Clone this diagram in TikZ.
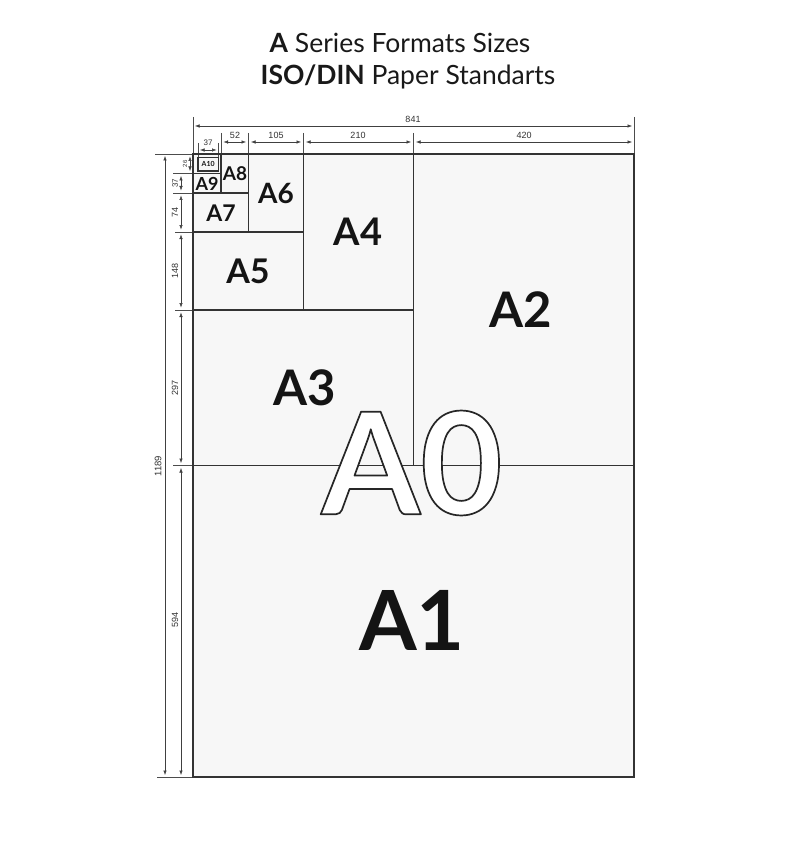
\documentclass[tikz,border=0pt]{standalone}
\usepackage{fontspec}
\setmainfont{Lato}
\newfontfamily\dimfont{Liberation Sans}
\usetikzlibrary{arrows.meta}
\begin{document}
\begin{tikzpicture}[x=1pt,y=-1pt,
  frame/.style={draw=black!80, line width=1.3pt},
  ext/.style={draw=black!70, line width=0.7pt},
  dim/.style={draw=black!75, line width=0.5pt, {Latex[length=4.5pt,width=3.4pt]}-{Latex[length=4.5pt,width=3.4pt]}},
  dimlbl/.style={font=\dimfont\fontsize{#1}{#1}\selectfont, text=black!80, inner sep=0pt},
  dimlbl/.default=9,
  lbl/.style={font=\bfseries\fontsize{#1}{#1}\selectfont, text=black!92, inner sep=0pt},
  ttl/.style={font=\fontsize{26.5}{27}\selectfont, text=black!90, inner sep=0pt, anchor=base}
]
\path[use as bounding box, fill=white] (0,0) rectangle (800,842);

% title
\node[ttl] (t1) at (400,53) {\textbf{A} Series Formats Sizes};
\node[ttl] (t2) at (408,85) {\textbf{ISO/DIN} Paper Standarts};

% paper sheet
\fill[black!3] (193,154) rectangle (634,777);

% extension lines
\draw[ext] (155,154) -- (193,154);
\draw[ext] (157,777) -- (193,777);
\draw[ext] (173,173.5) -- (193,173.5);
\draw[ext] (173,193) -- (193,193);
\draw[ext] (175,232) -- (193,232);
\draw[ext] (175,310) -- (193,310);
\draw[ext] (173,465.5) -- (193,465.5);
\draw[ext] (193,117) -- (193,154);
\draw[ext] (634,117) -- (634,154);
\draw[ext] (221,133) -- (221,154);
\draw[ext] (248.5,133) -- (248.5,154);
\draw[ext] (303.5,133) -- (303.5,154);
\draw[ext] (413.5,133) -- (413.5,154);
\draw[ext] (198,143) -- (198,157.5);
\draw[ext] (218.5,143) -- (218.5,157.5);

% subdivisions
\draw[frame] (193,465.5) -- (634,465.5);
\draw[frame] (413.5,154) -- (413.5,465.5);
\draw[frame] (193,310) -- (413.5,310);
\draw[frame] (303.5,154) -- (303.5,310);
\draw[frame] (193,232) -- (303.5,232);
\draw[frame] (248.5,154) -- (248.5,232);
\draw[frame] (193,193) -- (248.5,193);
\draw[frame] (221,154) -- (221,193);
\draw[frame] (193,173.5) -- (221,173.5);
\draw[frame, line width=1.1pt] (198,157.5) rectangle (218.5,171);
\draw[frame, line width=1.6pt] (193,154) rectangle (634,777);

% horizontal dimensions
\draw[dim] (195,126) -- (632,126);
\node[dimlbl] (d841) at (413,119) {841};
\draw[dim] (416,142) -- (632,142);
\node[dimlbl] (d420) at (524,135) {420};
\draw[dim] (306,142) -- (411,142);
\node[dimlbl] (d210) at (358,135) {210};
\draw[dim] (251,142) -- (301,142);
\node[dimlbl] (d105) at (276,135) {105};
\draw[dim] (223.5,142) -- (246,142);
\node[dimlbl] (d52) at (235,135) {52};
\draw[dim] (200,150) -- (216.5,150);
\node[dimlbl=8] (d37h) at (208,143) {37};

% vertical dimensions
\draw[dim] (165,156) -- (165,775);
\node[dimlbl=9.5, rotate=90] (d1189) at (158,466) {1189};
\draw[dim] (181,468) -- (181,775);
\node[dimlbl, rotate=90] (d594) at (175,620) {594};
\draw[dim] (181,312.5) -- (181,463);
\node[dimlbl, rotate=90] (d297) at (175,388) {297};
\draw[dim] (181,234.5) -- (181,307.5);
\node[dimlbl, rotate=90] (d148) at (175,271) {148};
\draw[dim] (181,195.5) -- (181,229.5);
\node[dimlbl, rotate=90] (d74) at (175,212) {74};
\draw[dim] (181,176) -- (181,190.5);
\node[dimlbl=8, rotate=90] (d37v) at (175,183) {37};
\draw[dim] (190,156.5) -- (190,171);
\node[dimlbl=6, rotate=90] (d26) at (185,164) {26};

% format labels
\node[lbl=83] (A1) at (412,620) {A1};
\node[lbl=49] (A2) at (521,309.5) {A2};
\node[lbl=49] (A3) at (305,387.5) {A3};
\node[lbl=38] (A4) at (358,232) {A4};
\node[lbl=34] (A5) at (248,271) {A5};
\node[lbl=28] (A6) at (276,193) {A6};
\node[lbl=23] (A7) at (221,213) {A7};
\node[lbl=19] (A8) at (235,174) {A8};
\node[lbl=18] (A9) at (207,184) {A9};
\node[lbl=7] (A10) at (208.2,164.2) {A10};

% A0 outline label (white fill, dark stroke via text render mode)
\node[font=\bfseries\fontsize{142}{142}\selectfont, text=white, inner sep=0pt] (A0) at (412,463)
  {\special{pdf:literal direct 0.15 0.15 0.15 RG 1.7 w 1 j 2 Tr}A0\special{pdf:literal direct 0 Tr}};
\end{tikzpicture}
\end{document}
